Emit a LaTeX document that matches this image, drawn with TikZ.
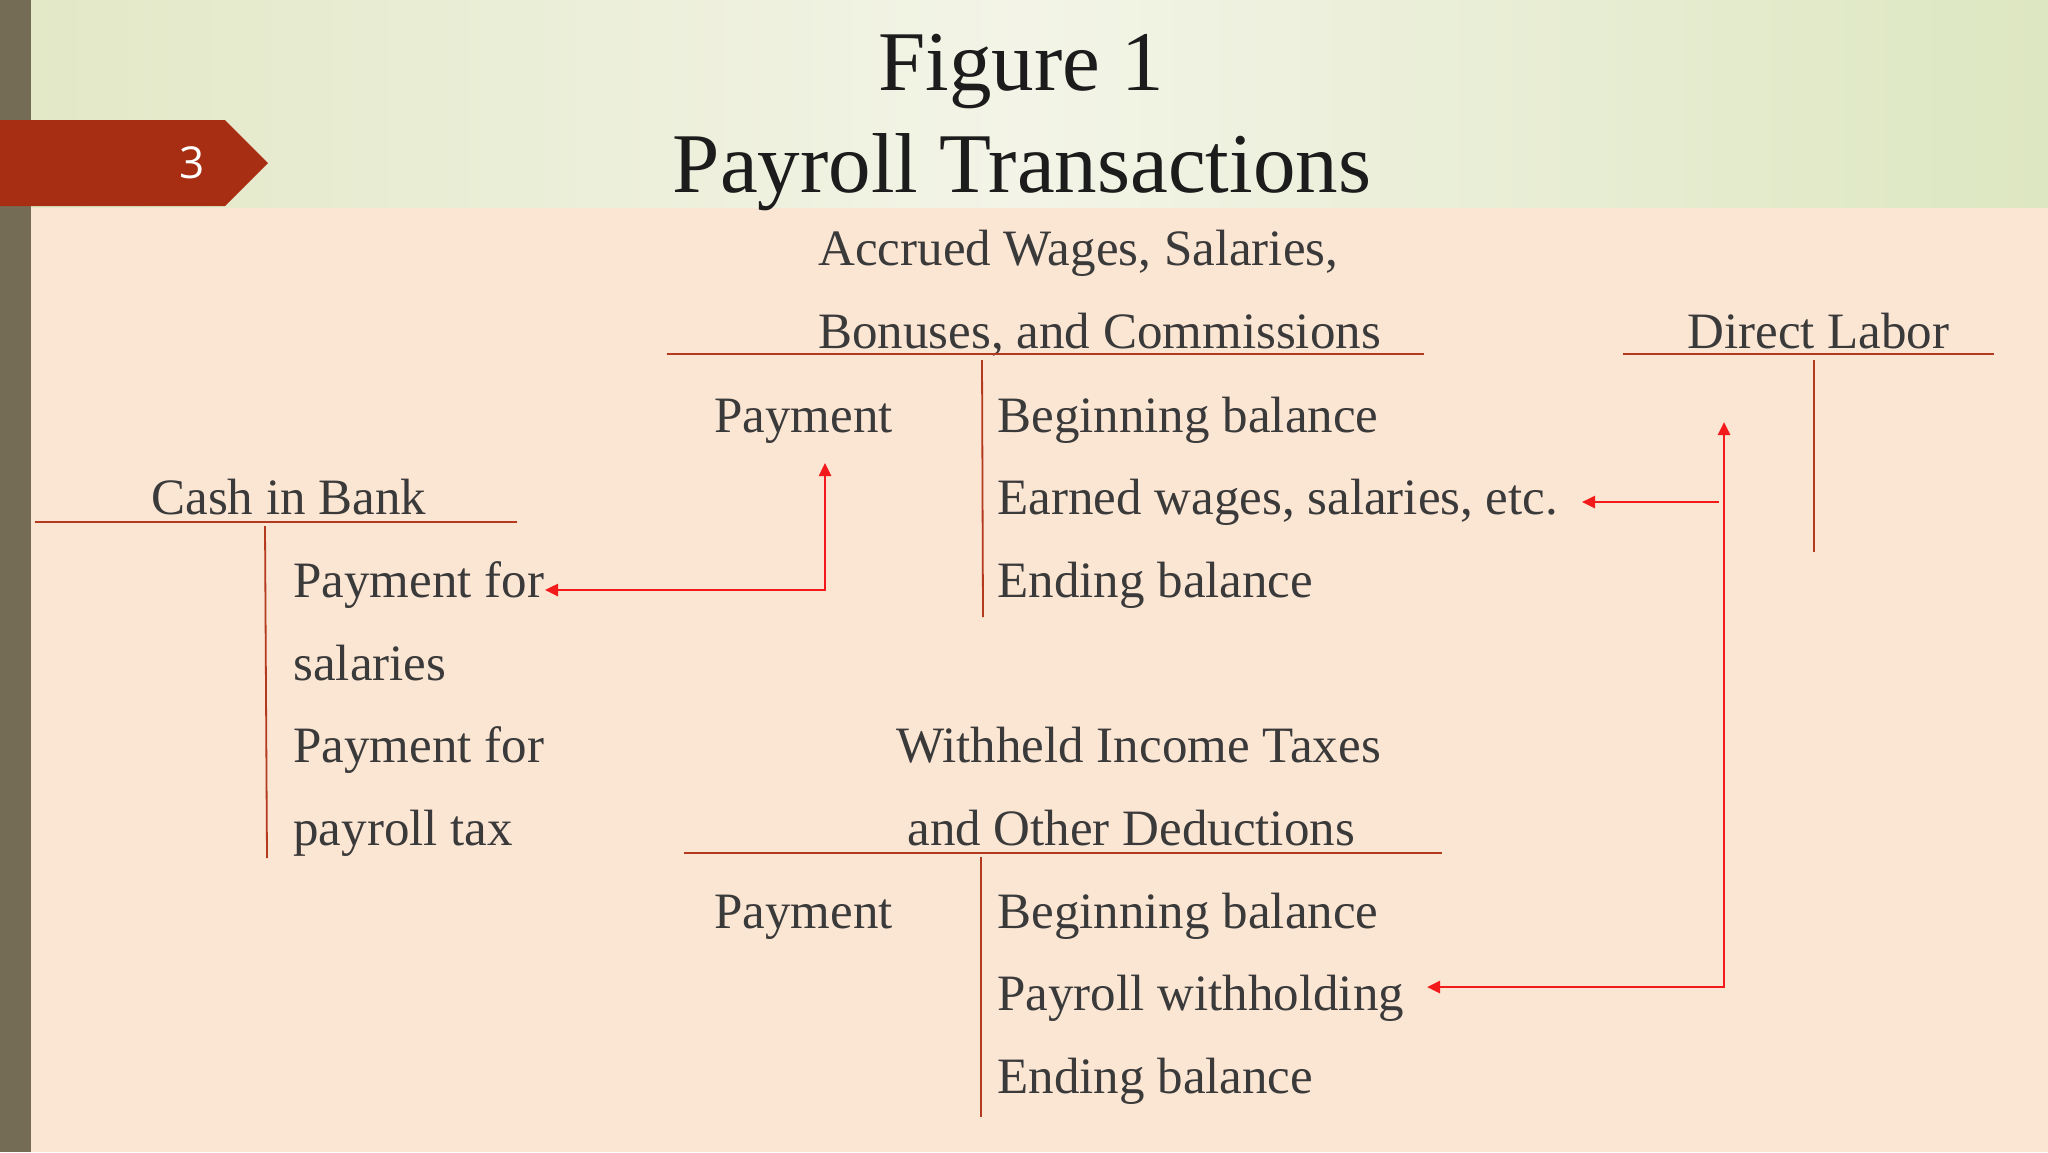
\documentclass[tikz,border=0pt]{standalone}
\usepackage{fontspec}
\setmainfont{Liberation Serif}
\newfontfamily\numfont{Open Sans}
\usetikzlibrary{arrows.meta}
\definecolor{peach}{HTML}{FBE5D3}
\definecolor{hdrL}{HTML}{E2E8C6}
\definecolor{hdrM}{HTML}{F3F4E7}
\definecolor{hdrR}{HTML}{DDE7C1}
\definecolor{barcol}{HTML}{756C56}
\definecolor{bannercol}{HTML}{A72E12}
\definecolor{tline}{HTML}{B33A1F}
\definecolor{txt}{HTML}{3A3A3A}
\definecolor{ttl}{HTML}{1C1C1C}
\definecolor{arrred}{HTML}{F21A1A}
\tikzset{
  lbl/.style={inner sep=0pt, anchor=base west, text=txt, font=\fontsize{25.5}{30}\selectfont},
  ttlstyle/.style={inner sep=0pt, anchor=base, text=ttl, font=\fontsize{42.5}{50}\selectfont},
  tacc/.style={draw=tline, line width=0.9pt},
  flow/.style={draw=arrred, line width=1.3pt, arrows={-Triangle[length=6.5pt,width=6pt]}},
  flowboth/.style={draw=arrred, line width=1.3pt, arrows={Triangle[length=6.5pt,width=6pt]-Triangle[length=6.5pt,width=6pt]}}
}
\begin{document}
\begin{tikzpicture}[x=0.5pt,y=-0.5pt]
\useasboundingbox (0,0) rectangle (2048,1152);
% backgrounds
\fill[peach] (0,0) rectangle (2048,1152);
\shade[left color=hdrL, right color=hdrR, middle color=hdrM] (0,0) rectangle (2048,207);
\fill[barcol] (0,0) rectangle (31,1152);
\fill[bannercol] (0,120) -- (225,120) -- (268,163) -- (225,206) -- (0,206) -- cycle;
\node[inner sep=0pt, text=white, font=\numfont\fontsize{22}{26}\selectfont] (num) at (192,163) {3};
% title
\node[ttlstyle] (t1) at (1021,90) {Figure 1};
\node[ttlstyle] (t2) at (1022,192) {Payroll Transactions};
% Accrued wages account
\node[lbl] (acc1) at (818,265) {Accrued Wages, Salaries,};
\node[lbl] (acc2) at (818,348) {Bonuses, and Commissions};
\coordinate (accL) at (667,354);
\coordinate (accR) at (1424,354);
\coordinate (accT) at (982,360);
\coordinate (accB0) at (983,617);
\draw[tacc] (accL) -- (accR);
\draw[tacc] (accT) -- (accB0);
\node[lbl] (accP) at (714,432) {Payment};
\node[lbl] (accB) at (997,432) {Beginning balance};
\node[lbl] (accE) at (997,514) {Earned wages, salaries, etc.};
\node[lbl] (accEnd) at (997,597) {Ending balance};
% Direct labor account
\node[lbl] (dl) at (1687,348) {Direct Labor};
\coordinate (dlL) at (1623,354);
\coordinate (dlR) at (1994,354);
\coordinate (dlT) at (1814,360);
\coordinate (dlB) at (1814,552);
\draw[tacc] (dlL) -- (dlR);
\draw[tacc] (dlT) -- (dlB);
% Cash in bank account
\node[lbl] (cash) at (151,514) {Cash in Bank};
\coordinate (cashL) at (35,522);
\coordinate (cashR) at (517,522);
\coordinate (cashT) at (265,526);
\coordinate (cashB) at (267,858);
\draw[tacc] (cashL) -- (cashR);
\draw[tacc] (cashT) -- (cashB);
\node[lbl] (cp1) at (293,597) {Payment for};
\node[lbl] (cs) at (293,680) {salaries};
\node[lbl] (cp2) at (293,762) {Payment for};
\node[lbl] (cpt) at (293,845) {payroll tax};
% Withheld account
\node[lbl] (wh1) at (896,762) {Withheld Income Taxes};
\node[lbl] (wh2) at (907,845) {and Other Deductions};
\coordinate (whL) at (684,853);
\coordinate (whR) at (1442,853);
\coordinate (whT) at (981,857);
\coordinate (whB0) at (981,1117);
\draw[tacc] (whL) -- (whR);
\draw[tacc] (whT) -- (whB0);
\node[lbl] (whP) at (714,928) {Payment};
\node[lbl] (whB) at (997,928) {Beginning balance};
\node[lbl] (whW) at (997,1010) {Payroll withholding};
\node[lbl] (whE) at (997,1093) {Ending balance};
% arrows
\coordinate (payTip) at (825,463);
\coordinate (cpTip) at (545,590);
\draw[flowboth] (cpTip) -| (payTip);
\coordinate (dlTip) at (1724,422);
\coordinate (whTip) at (1427,987);
\draw[flowboth] (dlTip) |- (whTip);
\coordinate (brStart) at (1719,502);
\coordinate (accTip) at (1582,502);
\draw[flow] (brStart) -- (accTip);
\end{tikzpicture}
\end{document}
